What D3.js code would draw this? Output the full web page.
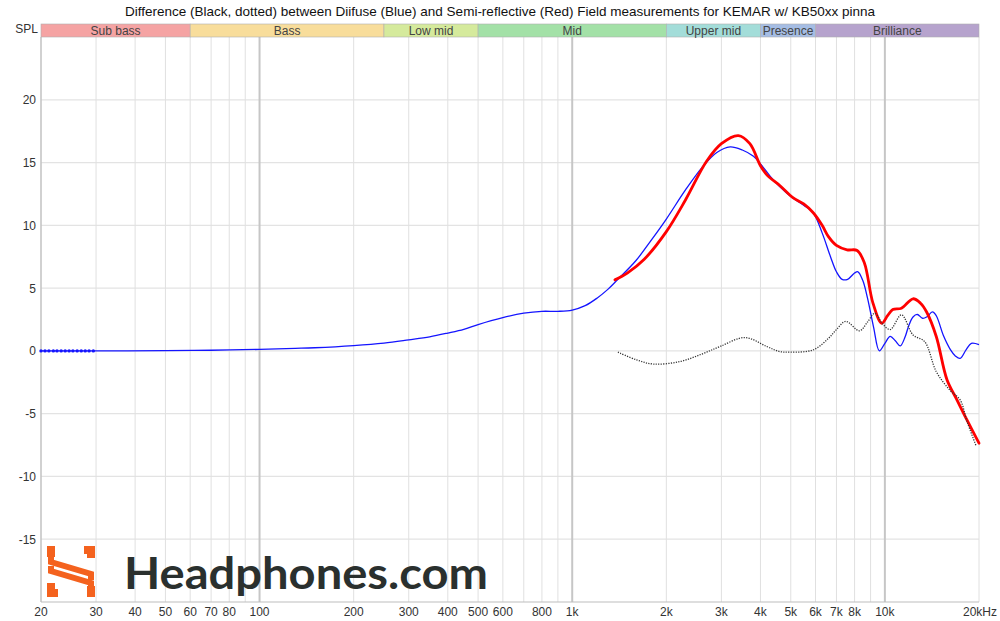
<!DOCTYPE html>
<html><head><meta charset="utf-8">
<script src="https://cdn.jsdelivr.net/npm/d3@7"></script>
<style>
html,body{margin:0;padding:0;background:#fff;}
svg{display:block;font-family:"Liberation Sans",Arial,Helvetica,sans-serif;}
</style></head>
<body><svg id="c" width="1000" height="621"></svg>
<script>
const title = "Difference (Black, dotted) between Diifuse (Blue) and Semi-reflective (Red) Field measurements for KEMAR w/ KB50xx pinna";

const bandNames = ["Sub bass","Bass","Low mid","Mid","Upper mid","Presence","Brilliance"];
const bandEdges = [20,60,250,500,2000,4000,6000,20000];
const bandColors = ["#f5a3a3","#f8dd9b","#d5ea9c","#a3e1a7","#a3ddd9","#a5bde4","#b6a3cd"];

const xTickValues = [20,30,40,50,60,70,80,100,200,300,400,500,600,800,1000,2000,3000,4000,5000,6000,7000,8000,10000,20000];
const xTickLabels = ["20","30","40","50","60","70","80","100","200","300","400","500","600","800","1k","2k","3k","4k","5k","6k","7k","8k","10k","20kHz"];
const xGridValues = [20,30,40,50,60,70,80,90,100,200,300,400,500,600,700,800,900,1000,2000,3000,4000,5000,6000,7000,8000,9000,10000,20000];
const xMajorGrid = [100,1000,10000];
const yTickValues = [20,15,10,5,0,-5,-10,-15];

// Blue: diffuse field
const blueFreq = [20,30,50,70,100,130,150,200,250,300,350,400,450,500,600,700,800,900,1000,1100,1200,1300,1400,1600,1800,2000,2300,2600,2900,3200,3500,3800,4000,4300,4600,5000,5500,5900,6300,6700,7000,7300,7600,8000,8200,8500,8800,9200,9600,10000,10400,10800,11200,11600,11900,12300,12700,13200,13600,14200,14600,15400,16200,16800,17400,18200,18900,20000];
const blueVal  = [0,0,0.02,0.05,0.12,0.2,0.25,0.42,0.62,0.88,1.12,1.42,1.72,2.1,2.65,3.0,3.15,3.15,3.25,3.6,4.2,4.9,5.7,7.2,8.9,10.5,12.8,14.6,15.8,16.25,16.0,15.5,14.9,13.9,13.1,12.3,11.6,11.0,9.4,7.5,6.3,5.7,5.7,6.2,6.3,5.6,4.2,1.9,0.0,0.6,1.15,0.8,0.4,1.1,1.95,2.7,2.9,2.6,2.7,3.1,2.8,1.2,0.1,-0.4,-0.6,0.1,0.6,0.5];
const blueDotFreq = [20,20.6,21.2,21.9,22.5,23.2,23.9,24.6,25.3,26.1,26.9,27.7,28.5,29.4];
const blueDotVal  = [0,0,0,0,0,0,0,0,0,0,0,0,0,0];

// Red: semi-reflective field
const redFreq = [1370,1500,1700,2000,2300,2690,3000,3400,3700,4000,4200,4620,5080,5500,5900,6300,6600,7000,7570,8150,8600,9160,9770,10200,10600,11300,12300,13000,13600,14600,15800,17000,18300,20000];
const redVal  = [5.66,6.2,7.3,9.5,12.0,15.1,16.5,17.15,16.5,14.75,14.0,13.15,12.2,11.7,11.0,10.0,9.1,8.4,8.05,8.0,7.0,3.8,2.2,2.8,3.3,3.4,4.15,3.8,3.1,1.15,-2.3,-3.9,-5.5,-7.35];

// Black dotted: difference
const diffFreq = [1400,1600,1820,2210,2600,2970,3570,4190,4600,4980,5900,6600,7000,7500,8300,8800,9290,9800,10400,11300,12300,13400,14600,16100,17400,18300,19600];
const diffVal  = [-0.1,-0.7,-1.05,-0.85,-0.25,0.35,1.06,0.35,-0.05,-0.1,0.08,1.0,1.7,2.35,1.6,2.3,3.0,2.2,1.7,2.87,1.27,0.74,-1.65,-3.1,-3.9,-5.6,-7.6];

const svg = d3.select("#c");
const L = 41, R = 979, T = 37, B = 602, bandTop = 24;
const x = d3.scaleLog().domain([20,20000]).range([L,R]);
const y = d3.scaleLinear().domain([25,-20]).range([T,B]);

// title
svg.append("text").attr("x",500).attr("y",16).attr("text-anchor","middle")
  .attr("font-size",13.5).attr("fill","#111").text(title);

// grid
const g = svg.append("g");
g.selectAll(".hg").data(yTickValues).enter().append("line")
  .attr("x1",L).attr("x2",R).attr("y1",d=>y(d)).attr("y2",d=>y(d))
  .attr("stroke","#e3e3e3").attr("stroke-width",1.2);
g.selectAll(".vg").data(xGridValues.filter(d=>!xMajorGrid.includes(d))).enter().append("line")
  .attr("x1",d=>x(d)).attr("x2",d=>x(d)).attr("y1",T).attr("y2",B)
  .attr("stroke","#e0e0e0").attr("stroke-width",1);
g.selectAll(".vgm").data(xMajorGrid).enter().append("line")
  .attr("x1",d=>x(d)).attr("x2",d=>x(d)).attr("y1",T).attr("y2",B)
  .attr("stroke","#c6c6c6").attr("stroke-width",2);

// logo watermark
const logo = svg.append("g");
const orange = "#f4621e";
[[47,546,8,11],[84,546,11,8],[47,589,11,8],[87,586,8,11]].forEach(r=>{
  logo.append("rect").attr("x",r[0]).attr("y",r[1]).attr("width",r[2]).attr("height",r[3]).attr("fill",orange);
});
logo.append("path").attr("d","M51,556 V562 L91,574 V580").attr("fill","none").attr("stroke",orange).attr("stroke-width",6).attr("stroke-linejoin","miter");
logo.append("path").attr("d","M91,553 V558").attr("fill","none").attr("stroke",orange).attr("stroke-width",8);
logo.append("path").attr("d","M51,566 V571 L91,583 V587").attr("fill","none").attr("stroke",orange).attr("stroke-width",6).attr("stroke-linejoin","miter");
logo.append("path").attr("d","M51,583 V590").attr("fill","none").attr("stroke",orange).attr("stroke-width",8);
logo.append("text").attr("x",124).attr("y",589).attr("font-family","Lato, 'Open Sans', sans-serif")
  .attr("font-weight",700).attr("font-size",44).attr("fill","#2a302e")
  .attr("textLength",364).attr("lengthAdjust","spacingAndGlyphs").text("Headphones.com");

// axes lines
svg.append("line").attr("x1",L).attr("x2",L).attr("y1",T).attr("y2",B).attr("stroke","#bdbdbd").attr("stroke-width",1.2);
svg.append("line").attr("x1",L).attr("x2",R).attr("y1",B).attr("y2",B).attr("stroke","#bdbdbd").attr("stroke-width",1.2);

// bands
const bands = bandNames.map((n,i)=>({n,a:bandEdges[i],b:bandEdges[i+1],c:bandColors[i]}));
svg.selectAll(".band").data(bands).enter().append("rect")
  .attr("x",d=>x(d.a)).attr("width",d=>x(d.b)-x(d.a)).attr("y",bandTop).attr("height",T-bandTop)
  .attr("fill",d=>d.c).attr("stroke","#b0b0b0").attr("stroke-width",0.6);
svg.selectAll(".bandt").data(bands).enter().append("text")
  .attr("x",d=>(x(d.a)+x(d.b))/2).attr("y",34.5).attr("text-anchor","middle")
  .attr("font-size",12).attr("fill","#444").text(d=>d.n);
svg.append("text").attr("x",38).attr("y",33).attr("text-anchor","end").attr("font-size",12).attr("fill","#333").text("SPL");

// tick labels
svg.selectAll(".yt").data(yTickValues).enter().append("text")
  .attr("x",36).attr("y",d=>y(d)+4.5).attr("text-anchor","end").attr("font-size",12).attr("fill","#333").text(d=>d);
svg.selectAll(".xt").data(xTickValues).enter().append("text")
  .attr("x",(d,i)=> i===xTickValues.length-1 ? x(d)+1 : x(d)).attr("y",616).attr("text-anchor","middle")
  .attr("font-size",12).attr("fill","#333").text((d,i)=>xTickLabels[i]);

// curves
const line = d3.line().x(d=>x(d[0])).y(d=>y(d[1])).curve(d3.curveCatmullRom.alpha(0.5));
const zip = (a,b)=>a.map((v,i)=>[v,b[i]]);
svg.append("path").datum(zip(blueFreq,blueVal)).attr("d",line).attr("fill","none").attr("stroke","#1414ff").attr("stroke-width",1.3);
svg.append("path").datum(zip(redFreq,redVal)).attr("d",line).attr("fill","none").attr("stroke","#ff0000").attr("stroke-width",2.8).attr("stroke-linecap","round");
svg.append("path").datum(zip(diffFreq,diffVal)).attr("d",line).attr("fill","none").attr("stroke","#333").attr("stroke-width",1.3).attr("stroke-dasharray","1.2,1.3");
svg.selectAll(".bd").data(zip(blueDotFreq,blueDotVal)).enter().append("circle")
  .attr("cx",d=>x(d[0])).attr("cy",d=>y(d[1])).attr("r",1.7).attr("fill","#1414ff");
</script></body></html>
